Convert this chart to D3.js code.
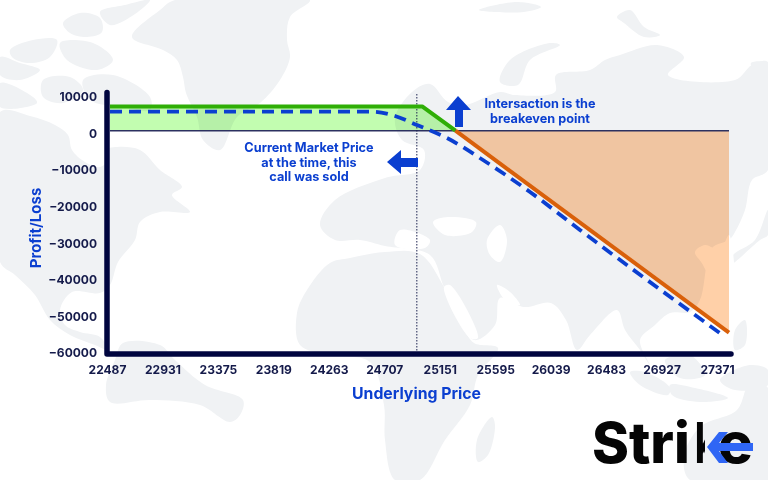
<!DOCTYPE html>
<html><head><meta charset="utf-8">
<script src="https://cdn.jsdelivr.net/npm/d3@7"></script>
<style>
html,body{margin:0;padding:0;background:#fff}
svg{display:block}
text{font-family:Inter,"Noto Sans",sans-serif}
</style></head><body><div id="chart"></div>
<script>
const xTickLabels=["22487","22931","23375","23819","24263","24707","25151","25595","26039","26483","26927","27371"];
const yTickValues=[10000,0,-10000,-20000,-30000,-40000,-50000,-60000];
const payoffPrices=[22487,24950,25213];
const payoffValues=[6560,6560,0];
const lossPrices=[25213,27371];
const lossValues=[0,-54500];
const tPlusPrices=[22487,24562,24736,24909,25146,25430,25801,26195,27330];
const tPlusValues=[5130,5130,3970,1540,-1970,-7910,-16540,-26800,-55400];
const spotPrice=24908;
const annotationBreakeven=["Intersaction is the","breakeven point"];
const annotationSpot=["Current Market Price","at the time, this","call was sold"];

const W=768,H=480;
const NAVY="#00053f",TICK="#141a4a",BLUE="#0b3fd0",GREEN="#2fae06",ORANGE="#d9600a",LAND="#f0f2f4";
const svg=d3.select("#chart").append("svg").attr("width",W).attr("height",H);
svg.append("rect").attr("width",W).attr("height",H).attr("fill","#fff");

/* decorative world map backdrop */
const land=[
 [[132,37],[160,10],[175,0],[310,0],[290,17],[287,40],[290,57],[280,80],[260,103],[237,117],[220,150],[203,140],[197,117],[186,93],[183,77],[177,60],[163,50]],
 [[0,112],[30,116],[55,125],[68,135],[72,150],[85,162],[100,167],[108,160],[105,150],[117,147],[140,150],[160,170],[182,187],[172,195],[190,212],[160,212],[140,222],[135,240],[118,262],[110,285],[100,293],[72,292],[60,310],[65,325],[80,332],[100,337],[108,350],[95,345],[70,335],[50,320],[35,295],[15,275],[0,262]],
 [[63,23],[80,13],[100,18],[102,32],[87,37],[70,33]],
 [[10,50],[33,40],[57,40],[50,57],[30,63],[13,58]],
 [[60,43],[93,43],[113,60],[97,70],[67,60]],
 [[0,57],[20,63],[40,70],[20,80],[0,75]],
 [[83,80],[113,75],[150,97],[150,110],[123,107],[90,100]],
 [[43,80],[70,77],[83,90],[63,103],[43,97]],
 [[0,83],[33,97],[37,103],[0,107]],
 [[100,12],[125,5],[150,0],[135,14],[110,25]],
 [[123,343],[160,345],[175,360],[205,385],[243,400],[240,415],[230,422],[200,405],[150,400],[110,402],[106,385],[115,360]],
 [[297,313],[307,290],[330,263],[350,258],[385,252],[420,254],[444,287],[462,325],[474,343],[498,348],[478,375],[470,405],[445,440],[420,480],[395,480],[385,440],[384,405],[370,362],[330,355],[300,345]],
 [[477,440],[492,417],[495,425],[488,455],[478,462]],
 [[320,225],[335,200],[385,178],[420,170],[424,150],[402,140],[395,118],[412,92],[430,84],[448,102],[465,105],[500,92],[515,95],[555,92],[556,75],[590,70],[605,60],[620,55],[657,45],[684,57],[668,75],[735,80],[752,65],[768,62],[768,170],[752,180],[745,210],[735,232],[729,240],[712,248],[700,300],[690,312],[670,313],[655,325],[640,340],[650,365],[640,350],[625,330],[617,310],[590,335],[577,350],[566,320],[551,303],[524,307],[500,298],[495,325],[474,340],[452,300],[444,287],[430,255],[385,246],[360,240],[335,240]],
 [[500,82],[510,60],[550,43],[560,45],[530,60],[518,85]],
 [[630,372],[645,372],[670,388],[668,395],[640,385]],
 [[670,385],[695,388],[728,398],[700,402],[672,395]],
 [[665,360],[690,355],[705,375],[680,378]],
 [[735,330],[745,320],[745,345],[735,350]],
 [[720,380],[750,365],[768,370],[768,385],[735,390]],
 [[730,265],[760,240],[768,235],[768,210],[755,240],[733,255]],
 [[684,457],[700,427],[737,410],[750,383],[768,388],[768,480],[690,480]],
 [[479,10],[517,2],[541,7],[524,12]],
 [[617,17],[630,10],[644,27],[660,35],[644,37],[624,23]],
 [[751,63],[768,63],[768,72],[755,72]]
];
const seas=[
 [[433,222],[448,217],[476,222],[472,232],[445,235]],
 [[487,240],[500,225],[507,240],[500,262],[490,255]],
 [[444,287],[450,285],[478,338],[470,338]],
 [[497,285],[510,292],[520,305],[505,300]],
 [[695,252],[705,245],[720,250],[729,235],[729,333],[702,330],[700,300],[712,290],[703,265]],
 [[388,150],[405,144],[418,160],[395,175],[386,168]],
 [[400,230],[430,240],[425,248],[395,245]]
];
const ring=d3.line().curve(d3.curveCatmullRomClosed.alpha(0.5));
const ringCol=(g,a,c)=>g.selectAll("path."+c).data(a).join("path").attr("class",c).attr("d",ring);
const mapG=svg.append("g");
ringCol(mapG.append("g").attr("fill",LAND),land,"land");
ringCol(mapG.append("g").attr("fill","#fff"),seas,"sea");

/* scales */
const x=d3.scaleLinear().domain([22487,27371]).range([110,729]);
const y=d3.scaleLinear().domain([-60000,10000]).range([353,93.65]);
const yLabel=d3.scaleLinear().domain([-60000,10000]).range([353,97]);
const xLabel=d3.scalePoint().domain(xTickLabels).range([107,717]);
const pts=(xs,ys)=>xs.map((v,i)=>[x(v),y(ys[i])]);

const multiply=s=>s.style("mix-blend-mode","multiply");
const area=d3.area().x(d=>d[0]).y1(d=>d[1]).y0(y(0));

/* profit and loss fills */
multiply(svg.append("path").attr("d",area(pts(payoffPrices,payoffValues))).attr("fill","#c2fdb0"));
multiply(svg.append("path").attr("d",area(pts(lossPrices,lossValues))).attr("fill","#ffd0a8"));

/* zero line */
svg.append("line").attr("x1",x(22487)).attr("x2",x(27371)).attr("y1",y(0)).attr("y2",y(0))
  .attr("stroke","#2c3160").attr("stroke-width",1.5);
/* spot marker */
svg.append("line").attr("x1",x(spotPrice)).attr("x2",x(spotPrice)).attr("y1",94).attr("y2",351)
  .attr("stroke","#1d2350").attr("stroke-width",1).attr("stroke-dasharray","1.5 1.5");

const line=d3.line();
svg.append("path").attr("d",line(pts(payoffPrices,payoffValues))).attr("fill","none")
  .attr("stroke",GREEN).attr("stroke-width",4).attr("stroke-linejoin","round");
svg.append("path").attr("d",line(pts(lossPrices,lossValues))).attr("fill","none")
  .attr("stroke",ORANGE).attr("stroke-width",4);
svg.append("path").attr("d",d3.line().curve(d3.curveMonotoneX)(pts(tPlusPrices,tPlusValues))).attr("fill","none")
  .attr("stroke",BLUE).attr("stroke-width",3.8).attr("stroke-dasharray","12 7");

/* axes */
const yAxis=d3.axisLeft(yLabel).tickValues(yTickValues).tickSize(0).tickPadding(0).tickFormat(d=>d<0?"\u2212"+Math.abs(d):d);
const yG=svg.append("g").attr("transform","translate(97,0)").call(yAxis);
yG.select(".domain").remove();
yG.selectAll("text").attr("fill",TICK).style("font-size","12px").style("font-weight",700).style("font-family","Inter");
const xAxis=d3.axisBottom(xLabel).tickSize(0).tickPadding(0);
const xG=svg.append("g").attr("transform","translate(0,365)").call(xAxis);
xG.select(".domain").remove();
xG.selectAll("text").attr("fill",TICK).style("font-size","12px").style("font-weight",700).style("font-family","Inter");
svg.append("path").attr("d","M107,92.5V354H731").attr("fill","none").attr("stroke",NAVY)
  .attr("stroke-width",5.5).attr("stroke-linecap","round").attr("stroke-linejoin","round");

/* axis titles */
svg.append("text").attr("x",416.5).attr("y",398.5).attr("text-anchor","middle").attr("fill",BLUE)
  .style("font-size","15.8px").style("font-weight",700).text("Underlying Price");
svg.append("text").attr("transform","translate(41,228) rotate(-90)").attr("text-anchor","middle").attr("fill",BLUE)
  .style("font-size","15px").style("font-weight",700).text("Profit/Loss");

/* annotations */
const note=(ls,cx,first,step)=>ls.forEach((t,i)=>svg.append("text").attr("x",cx).attr("y",first+i*step)
  .attr("text-anchor","middle").attr("fill",BLUE).style("font-size","12.7px").style("font-weight",700).text(t));
note(annotationBreakeven,540,107.5,15);
note(annotationSpot,309,152,14.7);
svg.append("path").attr("fill",BLUE).attr("d","M458,96L471,110H463V127H455V110H446Z");
svg.append("path").attr("fill",BLUE).attr("d","M387,162L401,150V158H418V167H401V174Z");

/* logo: the k is squeezed and keeps only its stem through a hard-stop gradient */
const kGrad=svg.append("linearGradient").attr("id","kStem");
[[0,1],[0.5,1],[0.5,0],[1,0]].forEach(s=>
  kGrad.append("stop").attr("offset",s[0]).attr("stop-color","#050505").attr("stop-opacity",s[1]));
const logo=svg.append("g").attr("fill","#050505").style("font-size","56px").style("font-weight",800);
logo.append("text").attr("x",592).attr("y",463).text("Stri");
logo.append("text").attr("transform","translate(695,463) scale(0.62,1)").attr("fill","url(#kStem)").text("k");
logo.append("text").attr("x",718).attr("y",463).attr("textLength",35).attr("lengthAdjust","spacingAndGlyphs").text("e");
svg.append("path").attr("fill","#2f66f5").attr("d","M707,447L719,432H728L719,443H753V451H719L728,463H719Z");
</script></body></html>
